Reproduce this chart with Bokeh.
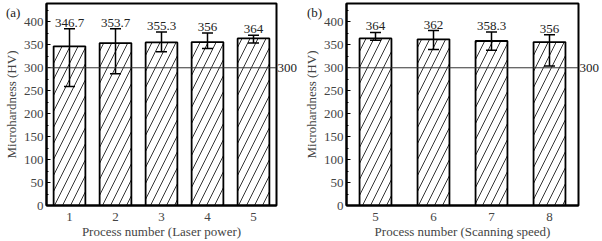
from bokeh.plotting import figure
from bokeh.layouts import row
from bokeh.models import (ColumnDataSource, Range1d, Whisker, TeeHead, Span, Div,
                          FixedTicker, LinearAxis)
from bokeh.core.properties import value
from bokeh.embed import file_html
from bokeh.resources import INLINE

# Panel (a): laser power
a_proc = [1, 2, 3, 4, 5]
a_mean = [346.7, 353.7, 355.3, 356, 364]
a_upper = [385, 385, 378, 376, 371]
a_lower = [259, 287, 335, 342, 354]
a_labels = ["346.7", "353.7", "355.3", "356", "364"]

# Panel (b): scanning speed
b_proc = [5, 6, 7, 8]
b_mean = [364, 362, 358.3, 356]
b_upper = [377, 381, 378, 372]
b_lower = [360, 340, 338, 304]
b_labels = ["364", "362", "358.3", "356"]

y_ticks = [0, 50, 100, 150, 200, 250, 300, 350, 400]
y_minor = [25, 75, 125, 175, 225, 275, 325, 375, 425]
ref_level = 300

FONT = "Liberation Serif"
FS = "13px"


def panel(procs, means, uppers, lowers, labels, xr, bar_w, xlabel, width, left, right):
    p = figure(width=width, height=241, x_range=Range1d(*xr), y_range=Range1d(0, 440),
               output_backend="svg", toolbar_location=None,
               min_border_left=left, min_border_right=right,
               min_border_top=3, min_border_bottom=36)
    p.grid.visible = False
    p.outline_line_color = "black"
    p.outline_line_width = 2
    p.background_fill_color = "white"
    p.border_fill_color = "white"

    src = ColumnDataSource(dict(x=procs, top=means, upper=uppers, lower=lowers, lab=labels))
    p.vbar(x="x", top="top", width=bar_w, source=src, fill_color="white",
           line_color="black", line_width=1.8, hatch_pattern="/",
           hatch_color="black", hatch_weight=0.8, hatch_scale=16)

    w = Whisker(base="x", upper="upper", lower="lower", source=src, level="annotation",
                line_color="black", line_width=1.5,
                upper_head=TeeHead(size=11, line_color="black", line_width=1.5),
                lower_head=TeeHead(size=11, line_color="black", line_width=1.5))
    p.add_layout(w)

    p.text(x="x", y="upper", text="lab", source=src, text_align="center",
           text_baseline="bottom", y_offset=-2, text_font=value(FONT),
           text_font_size=FS, text_color="#222222")

    p.add_layout(Span(location=ref_level, dimension="width", line_color="#333333",
                      line_width=1))

    # right-side axis showing only the reference value
    rax = LinearAxis(ticker=FixedTicker(ticks=[ref_level]))
    rax.axis_line_color = None
    rax.major_tick_in = 0
    rax.major_tick_out = 0
    rax.minor_tick_in = 0
    rax.minor_tick_out = 0
    rax.major_label_standoff = 1
    rax.major_label_text_font = FONT
    rax.major_label_text_font_size = FS
    rax.major_label_text_color = "#222222"
    p.add_layout(rax, "right")

    yax = p.yaxis[0]
    yax.ticker = FixedTicker(ticks=y_ticks, minor_ticks=y_minor)
    yax.axis_label = "Microhardness (HV)"
    yax.axis_label_text_font = FONT
    yax.axis_label_text_font_style = "normal"
    yax.axis_label_text_font_size = FS
    yax.axis_label_standoff = 2
    yax.major_label_text_font = FONT
    yax.major_label_text_font_size = FS
    yax.major_label_standoff = 3
    yax.major_tick_in = 4
    yax.major_tick_out = 0
    yax.minor_tick_in = 2
    yax.minor_tick_out = 0
    yax.axis_line_width = 2

    xax = p.xaxis[0]
    xax.ticker = FixedTicker(ticks=procs)
    xax.axis_label = xlabel
    xax.axis_label_text_font = FONT
    xax.axis_label_text_font_style = "normal"
    xax.axis_label_text_font_size = FS
    xax.axis_label_standoff = 0
    xax.major_label_text_font = FONT
    xax.major_label_text_font_size = FS
    xax.major_label_standoff = 7
    xax.major_tick_in = 0
    xax.major_tick_out = 0
    xax.minor_tick_in = 0
    xax.minor_tick_out = 0
    xax.axis_line_width = 2
    return p


def tag_div(text, left_px):
    return Div(text=text, width=24, height=16,
               styles={"position": "absolute", "left": f"{left_px}px", "top": "0px",
                       "font-family": FONT, "font-size": FS, "color": "#222222",
                       "line-height": "15px", "z-index": "10"})


pa = panel(a_proc, a_mean, a_upper, a_lower, a_labels, (0.5, 5.5), 0.69,
           "Process number (Laser power)", 300, 39, 19)
pb = panel(b_proc, b_mean, b_upper, b_lower, b_labels, (4.5, 8.5), 0.55,
           "Process number (Scanning speed)", 302, 39, 21)

layout = row(pa, pb, tag_div("(a)", 1), tag_div("(b)", 302), spacing=0)
layout.styles = {"position": "absolute", "left": "0px", "top": "0px"}

open("out.html", "w").write(file_html(layout, INLINE))
